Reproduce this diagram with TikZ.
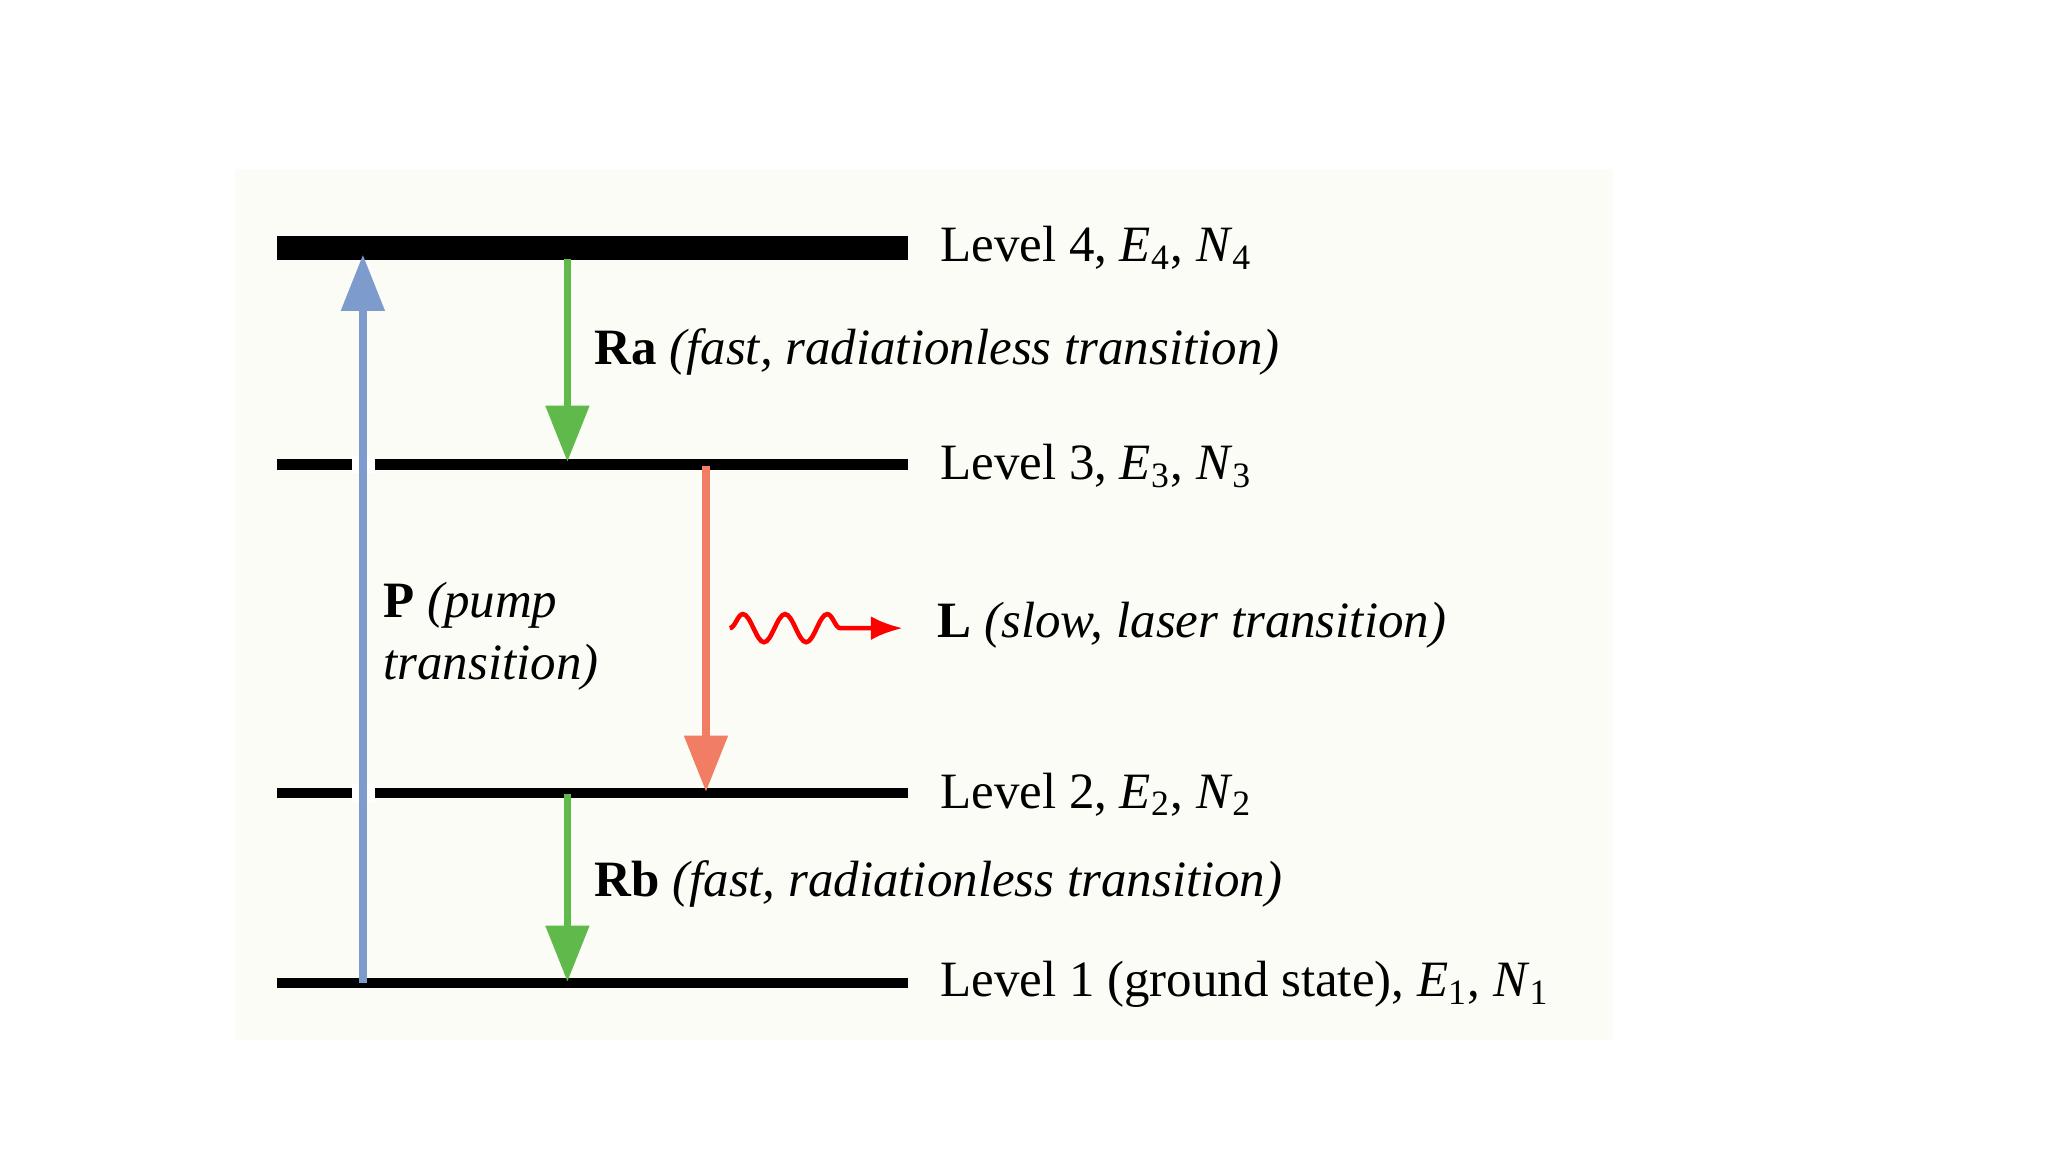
\documentclass[tikz,border=0pt]{standalone}
\usepackage{fontspec}
\setmainfont{Liberation Serif}
\usetikzlibrary{arrows.meta, decorations.pathmorphing}
\definecolor{pumpblue}{RGB}{125,155,205}
\definecolor{fastgreen}{RGB}{95,185,75}
\definecolor{lasersalmon}{RGB}{240,125,100}
\definecolor{paper}{RGB}{252,252,246}

\begin{document}
\begin{tikzpicture}[
    x=0.0132cm, y=-0.0132cm,
    level/.style={line width=3pt},
    lbl/.style={anchor=west, inner sep=0pt, font=\fontsize{14.5}{17.5}\selectfont},
    trans/.style={line width=2.2pt, -{Triangle[length=16pt, width=12pt]}}
]
    \useasboundingbox (0,0) rectangle (1552,873);
    \fill[paper] (178,128) rectangle (1222,788);

    % Levels
    \coordinate (l4w) at (210,188); \coordinate (l4e) at (688,188);
    \coordinate (l3w) at (210,352); \coordinate (l3e) at (688,352);
    \coordinate (l2w) at (210,601); \coordinate (l2e) at (688,601);
    \coordinate (l1w) at (210,745); \coordinate (l1e) at (688,745);
    \draw[level, line width=7pt] (l4w) -- (l4e);
    \draw[level] (l3w) -- (l3e);
    \draw[level] (l2w) -- (l2e);
    \draw[level] (l1w) -- (l1e);

    \node[lbl] (t4) at (712,188) {Level 4, \textit{E}\textsubscript{4}, \textit{N}\textsubscript{4}};
    \node[lbl] (t3) at (712,353) {Level 3, \textit{E}\textsubscript{3}, \textit{N}\textsubscript{3}};
    \node[lbl] (t2) at (712,602) {Level 2, \textit{E}\textsubscript{2}, \textit{N}\textsubscript{2}};
    \node[lbl] (t1) at (712,746) {Level 1 (ground state), \textit{E}\textsubscript{1}, \textit{N}\textsubscript{1}};

    % Transitions
    \draw[white, line width=5pt] (267,352) -- (284,352) (267,601) -- (284,601);
    \coordinate (p0) at (275,745); \coordinate (p1) at (275,193);
    \draw[trans, pumpblue] (p0) -- (p1);
    \coordinate (ra0) at (430,196); \coordinate (ra1) at (430,350);
    \draw[trans, fastgreen] (ra0) -- (ra1);
    \coordinate (l0) at (535,353); \coordinate (l1) at (535,600);
    \draw[trans, lasersalmon] (l0) -- (l1);
    \coordinate (rb0) at (430,602); \coordinate (rb1) at (430,744);
    \draw[trans, fastgreen] (rb0) -- (rb1);

    % Photon
    \coordinate (w0) at (553,476); \coordinate (w1) at (684,476);
    \draw[red, line width=1.3pt, -{Latex[length=9pt]},
        decorate, decoration={snake, amplitude=4pt, segment length=12pt, post length=12pt}] (w0) -- (w1);

    \node[lbl] (tra) at (450,267) {\textbf{Ra} \textit{(fast, radiationless transition)}};
    \node[lbl] (trb) at (450,670) {\textbf{Rb} \textit{(fast, radiationless transition)}};
    \node[lbl] (tl) at (710,474) {\textbf{L} \textit{(slow, laser transition)}};
    \node[lbl, align=left] (tp) at (290,482) {\textbf{P} \textit{(pump}\\\textit{transition)}};
\end{tikzpicture}
\end{document}
